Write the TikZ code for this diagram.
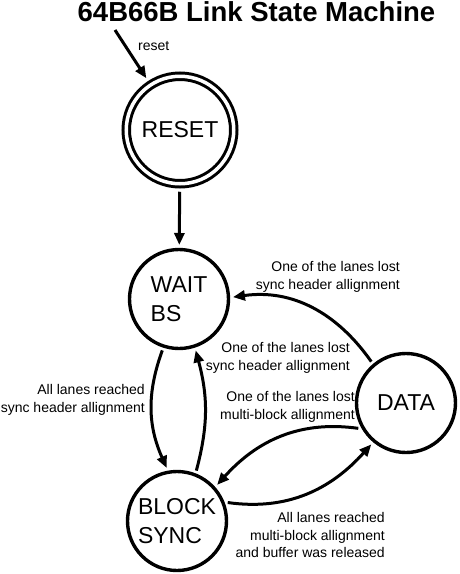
\documentclass[tikz,border=0pt]{standalone}
\usepackage{fontspec}
\setmainfont{Liberation Sans}
\usetikzlibrary{arrows.meta}

\begin{document}
\begin{tikzpicture}[x=1pt, y=1pt,
        state/.style={circle, draw, line width=3.4pt, minimum size=99pt, inner sep=0pt,
                      outer sep=4.5pt, align=left, font=\fontsize{23}{29}\selectfont},
        trans/.style={-{Triangle[length=12pt, width=10pt]}, line width=3pt},
        note/.style={align=right, anchor=east, inner sep=0pt, font=\fontsize{14}{17.5}\selectfont}
    ]
    \useasboundingbox (0,0) rectangle (460,-574);

    \node[font=\bfseries\fontsize{27.5}{30}\selectfont, anchor=base] (title) at (256.5,-21.5) {64B66B Link State Machine};

    \node[state, double, line width=3pt, double distance=3.5pt, minimum size=107.5pt, outer sep=8pt] (reset) at (180,-130) {RESET};
    \node[state] (wait)  at (179,-299) {WAIT\\BS};
    \node[state] (block) at (177,-521) {BLOCK\\SYNC};
    \node[state] (data)  at (406,-403) {DATA};

    \coordinate (start) at (115,-30);
    \draw[trans] (start) -- (reset);
    \draw[trans] (reset) -- (wait);
    \draw[trans] (wait.252) to[out=250, in=114] (block.101);
    \draw[trans] (block.69) to[out=75, in=285] (wait.288);
    \draw[trans] (data.130) to[out=125, in=8] (wait.2);
    \draw[trans] (data.208) to[out=172, in=48] (block.42);
    \draw[trans] (block.20) to[out=-8, in=228] (data.230);

    \node[note, anchor=base west] (rstlbl) at (138,-50) {reset};
    \node[note] (synclbl)  at (145,-400) {All lanes reached\\sync header allignment};
    \node[note] (lostlbl)  at (350,-358) {One of the lanes lost\\sync header allignment};
    \node[note] (lostlbl2) at (400,-277) {One of the lanes lost\\sync header allignment};
    \node[note] (mblbl)    at (355,-407) {One of the lanes lost\\multi-block allignment};
    \node[note] (mblbl2)   at (385,-535) {All lanes reached\\multi-block allignment\\and buffer was released};
\end{tikzpicture}
\end{document}
